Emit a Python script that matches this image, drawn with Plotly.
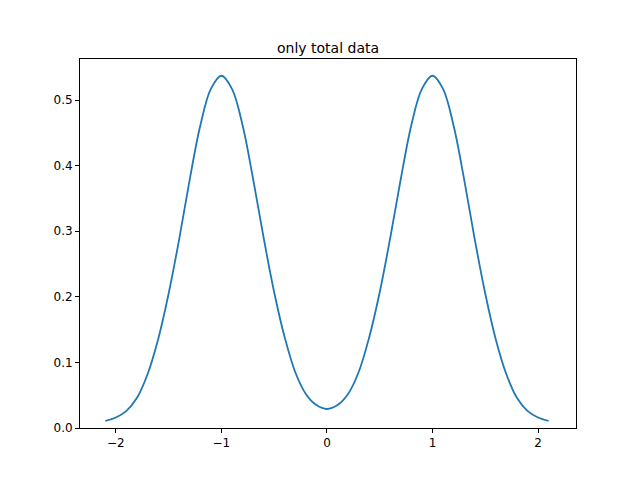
import plotly.graph_objects as go

x_vals = [-2.1, -2.0, -1.9, -1.8, -1.7, -1.6, -1.5, -1.4, -1.3, -1.2, -1.1, -1.0,
          -0.9, -0.8, -0.7, -0.6, -0.5, -0.4, -0.3, -0.2, -0.1, 0.0,
          0.1, 0.2, 0.3, 0.4, 0.5, 0.6, 0.7, 0.8, 0.9, 1.0,
          1.1, 1.2, 1.3, 1.4, 1.5, 1.6, 1.7, 1.8, 1.9, 2.0, 2.1]
y_vals = [0.011, 0.016, 0.026, 0.046, 0.082, 0.135, 0.205, 0.288, 0.379, 0.461, 0.517, 0.537,
          0.517, 0.462, 0.380, 0.290, 0.207, 0.138, 0.085, 0.052, 0.035, 0.029,
          0.035, 0.052, 0.085, 0.138, 0.207, 0.290, 0.380, 0.462, 0.517, 0.537,
          0.517, 0.461, 0.379, 0.288, 0.205, 0.135, 0.082, 0.046, 0.026, 0.016, 0.011]

fig = go.Figure(go.Scatter(x=x_vals, y=y_vals, mode="lines",
                           line=dict(color="#1f77b4", width=1.8, shape="spline")))
axis = dict(showgrid=False, zeroline=False, showline=True, mirror=True, linecolor="black",
            linewidth=1, ticks="outside", ticklen=4, tickcolor="black", automargin=False,
            tickfont=dict(family="DejaVu Sans", size=12, color="black"))
fig.update_layout(
    width=640, height=480, plot_bgcolor="white", paper_bgcolor="white",
    margin=dict(l=72, r=72, t=51, b=60), showlegend=False,
    title=dict(text="only total data", x=0.5, xanchor="center", y=1 - 45/480, yanchor="bottom",
               font=dict(family="DejaVu Sans", size=14, color="black")),
    xaxis=dict(axis, range=[-2.34, 2.36], tickvals=[-2, -1, 0, 1, 2],
               ticktext=["\u22122", "\u22121", "0", "1", "2"]),
    yaxis=dict(axis, range=[0, 0.5625], tickvals=[0, 0.1, 0.2, 0.3, 0.4, 0.5],
               ticktext=["0.0", "0.1", "0.2", "0.3", "0.4", "0.5"]),
)
fig.write_html("out.html")
